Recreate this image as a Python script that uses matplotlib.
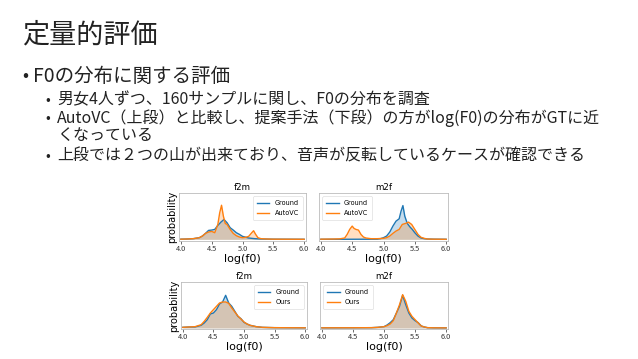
import matplotlib.pyplot as plt

plt.rcParams['font.family'] = ['Noto Sans CJK JP', 'DejaVu Sans']

# f2m / AutoVC (upper left)
f2m_vc_x_gt = [4.0, 4.1, 4.2, 4.3, 4.35, 4.4, 4.45, 4.5, 4.55, 4.6, 4.65, 4.7, 4.75, 4.8,
               4.85, 4.9, 4.95, 5.0, 5.1, 5.2, 5.3, 5.5, 6.0]
f2m_vc_y_gt = [0.5, 1, 2, 5, 10, 18, 27, 28, 30, 42, 52, 60, 50, 35,
               28, 20, 15, 9, 4, 2, 1, 0.5, 0.2]
f2m_vc_x = [4.0, 4.1, 4.2, 4.3, 4.35, 4.4, 4.45, 4.5, 4.55, 4.6, 4.63, 4.66, 4.69, 4.72,
            4.75, 4.8, 4.85, 4.9, 4.95, 5.0, 5.05, 5.1, 5.15, 5.18, 5.21, 5.25, 5.3,
            5.4, 5.5, 6.0]
f2m_vc_y = [0.5, 1, 2, 5, 10, 18, 22, 24, 20, 45, 80, 103, 70, 48,
            45, 30, 18, 11, 7, 5, 6, 9, 20, 26, 16, 5, 2,
            1, 0.5, 0.2]

# m2f / AutoVC (upper right)
m2f_vc_x_gt = [4.0, 4.5, 4.9, 4.95, 5.0, 5.05, 5.1, 5.15, 5.2, 5.25, 5.28, 5.31, 5.34,
               5.38, 5.42, 5.46, 5.5, 5.55, 5.6, 5.65, 5.7, 5.8, 6.0]
m2f_vc_y_gt = [0.2, 0.3, 0.5, 2, 5, 10, 22, 40, 55, 62, 85, 102, 70,
               48, 38, 30, 20, 10, 4, 2, 1, 0.5, 0.2]
m2f_vc_x = [4.0, 4.2, 4.3, 4.38, 4.42, 4.46, 4.5, 4.53, 4.56, 4.6, 4.64, 4.68, 4.72,
            4.8, 4.9, 5.0, 5.05, 5.1, 5.15, 5.2, 5.25, 5.3, 5.35, 5.4, 5.45, 5.5,
            5.55, 5.6, 5.65, 5.7, 5.8, 6.0]
m2f_vc_y = [0.5, 1, 1.5, 4, 15, 30, 40, 33, 30, 28, 15, 7, 4,
            2, 2, 3, 5, 10, 18, 25, 30, 45, 48, 52, 45, 30,
            15, 6, 3, 1, 0.5, 0.2]

# f2m / Ours (lower left)
f2m_ours_x = [4.0, 4.1, 4.2, 4.3, 4.35, 4.4, 4.45, 4.5, 4.55, 4.6, 4.65, 4.7, 4.75, 4.8,
              4.85, 4.9, 4.95, 5.0, 5.05, 5.1, 5.2, 5.3, 5.5, 6.0]
f2m_ours_y_gt = [2, 3, 3, 8, 15, 25, 42, 45, 55, 72, 78, 98, 75, 65,
                 50, 35, 28, 17, 12, 8, 4, 2, 1, 0.5]
f2m_ours_y = [2, 3, 4, 10, 20, 32, 45, 55, 65, 75, 78, 78, 74, 60,
              48, 36, 27, 18, 12, 8, 4, 2, 1, 0.5]

# m2f / Ours (lower right)
m2f_ours_x = [4.0, 4.5, 4.8, 4.9, 5.0, 5.05, 5.1, 5.15, 5.2, 5.25, 5.3, 5.35, 5.4,
              5.45, 5.5, 5.55, 5.6, 5.65, 5.7, 5.8, 6.0]
m2f_ours_y_gt = [0.5, 0.7, 1, 2, 4, 9, 16, 25, 45, 65, 98, 70, 45,
                 30, 22, 16, 6, 3, 1, 0.5, 0.3]
m2f_ours_y = [0.5, 0.7, 1, 2, 4, 7, 12, 22, 45, 70, 100, 80, 50,
              35, 25, 15, 6, 3, 1, 0.5, 0.3]

xticks = [4.0, 4.5, 5.0, 5.5, 6.0]

W, H = 638, 359
fig = plt.figure(figsize=(W / 100, H / 100), dpi=100)
fig.patch.set_facecolor('white')

txt = '#222222'
fig.text(22 / W, 1 - 35 / H, '定量的評価', fontsize=19.5, color=txt, va='center')
fig.text(22 / W, 1 - 76 / H, '•', fontsize=13, color=txt, va='center')
fig.text(33 / W, 1 - 76 / H, 'F0の分布に関する評価', fontsize=14, color=txt, va='center')

sub_lines = [
    (100, True, '男女4人ずつ、160サンプルに関し、F0の分布を調査'),
    (118, True, 'AutoVC（上段）と比較し、提案手法（下段）の方がlog(F0)の分布がGTに近'),
    (135, False, 'くなっている'),
    (156, True, '上段では２つの山が出来ており、音声が反転しているケースが確認できる'),
]
for y, bullet, s in sub_lines:
    if bullet:
        fig.text(45 / W, 1 - y / H, '•', fontsize=10, color=txt, va='center')
    fig.text(57 / W, 1 - y / H, s, fontsize=11.5, color=txt, va='center')


def panel(box, title, x1, y1, x2, y2, label2, ylim, legend_loc, ylabel):
    left, right, top, bottom = box
    ax = fig.add_axes([left / W, 1 - bottom / H, (right - left) / W, (bottom - top) / H])
    ax.plot(x1, y1, color='#1f77b4', lw=1.0, label='Ground')
    ax.fill_between(x1, y1, color='#1f77b4', alpha=0.25, lw=0)
    ax.plot(x2, y2, color='#ff7f0e', lw=1.0, label=label2)
    ax.fill_between(x2, y2, color='#ff7f0e', alpha=0.25, lw=0)
    ax.set_xlim(3.97, 6.03)
    ax.set_ylim(*ylim)
    ax.set_yticks([])
    ax.set_xticks(xticks)
    ax.set_xticklabels([f'{t:.1f}' for t in xticks])
    ax.tick_params(axis='x', labelsize=5.3, length=2, width=0.5, pad=1, colors='#333333')
    for sp in ax.spines.values():
        sp.set_color('#bbbbbb')
        sp.set_linewidth(0.6)
    ax.set_title(title, fontsize=6.2, pad=2, family='DejaVu Sans')
    ax.set_xlabel('log(f0)', fontsize=8, labelpad=0.5, family='DejaVu Sans')
    if ylabel:
        ax.set_ylabel('probability', fontsize=7, labelpad=1, family='DejaVu Sans')
    leg = ax.legend(loc=legend_loc, handlelength=1.9, borderpad=0.6,
                    labelspacing=0.6, prop={'family': 'DejaVu Sans', 'size': 4.7})
    leg.get_frame().set_linewidth(0.4)
    return ax


panel((179, 306, 193, 241), 'f2m', f2m_vc_x_gt, f2m_vc_y_gt, f2m_vc_x, f2m_vc_y,
      'AutoVC', (-5, 140), 'upper right', True)
panel((319, 448, 193, 241), 'm2f', m2f_vc_x_gt, m2f_vc_y_gt, m2f_vc_x, m2f_vc_y,
      'AutoVC', (-5, 140), 'upper left', False)
panel((181, 307, 282, 329), 'f2m', f2m_ours_x, f2m_ours_y_gt, f2m_ours_x, f2m_ours_y,
      'Ours', (-3, 138), 'upper right', True)
panel((320, 448, 282, 329), 'm2f', m2f_ours_x, m2f_ours_y_gt, m2f_ours_x, m2f_ours_y,
      'Ours', (-3, 138), 'upper left', False)

plt.savefig('out.png', dpi=100)
